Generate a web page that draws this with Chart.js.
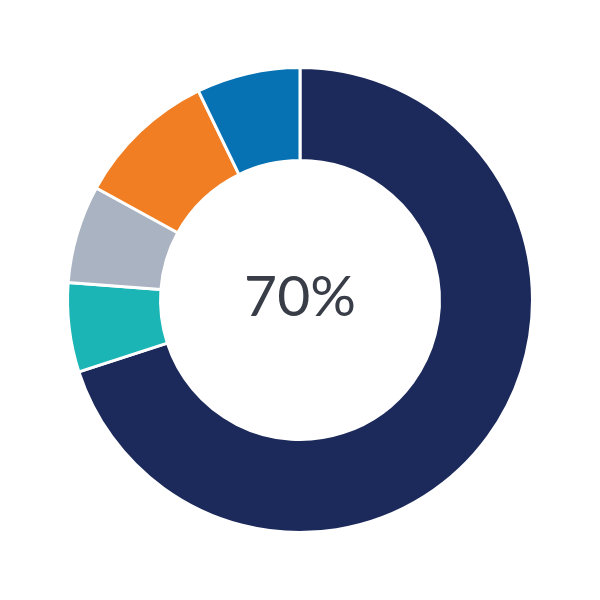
<!DOCTYPE html>
<html>
<head>
<meta charset="utf-8">
<style>
  html, body { margin: 0; padding: 0; background: #ffffff; }
  #wrap { width: 600px; height: 600px; position: relative; }
</style>
<script src="https://cdn.jsdelivr.net/npm/chart.js@4.4.1/dist/chart.umd.min.js"></script>
</head>
<body>
<div id="wrap"><canvas id="c"></canvas></div>
<script>
  // shares, clockwise from 12 o'clock
  const labels = ["A", "B", "C", "D", "E"];
  const shares = [70, 6.2, 6.8, 9.8, 7.2];
  const colors = ["#1b2a5b", "#1cb5b6", "#a9b3c1", "#f17e22", "#0672b3"];
  const centerLabel = "70%";

  const centerText = {
    id: "centerText",
    afterDraw(chart) {
      const arc = chart.getDatasetMeta(0).data[0];
      if (!arc) return;
      const ctx = chart.ctx;
      ctx.save();
      ctx.font = "400 57px Lato, 'Open Sans', sans-serif";
      ctx.fillStyle = "#383d47";
      ctx.textAlign = "center";
      ctx.textBaseline = "middle";
      ctx.fillText(centerLabel, arc.x, arc.y - 2);
      ctx.restore();
    },
  };

  new Chart(document.getElementById("c"), {
    type: "doughnut",
    data: {
      labels: labels,
      datasets: [
        {
          data: shares,
          backgroundColor: colors,
          borderColor: "#ffffff",
          borderWidth: 3,
          hoverOffset: 0,
        },
      ],
    },
    options: {
      responsive: true,
      maintainAspectRatio: false,
      animation: false,
      cutout: "60%",
      layout: { padding: 66 },
      plugins: {
        legend: { display: false },
        tooltip: { enabled: false },
      },
    },
    plugins: [centerText],
  });
</script>
</body>
</html>
